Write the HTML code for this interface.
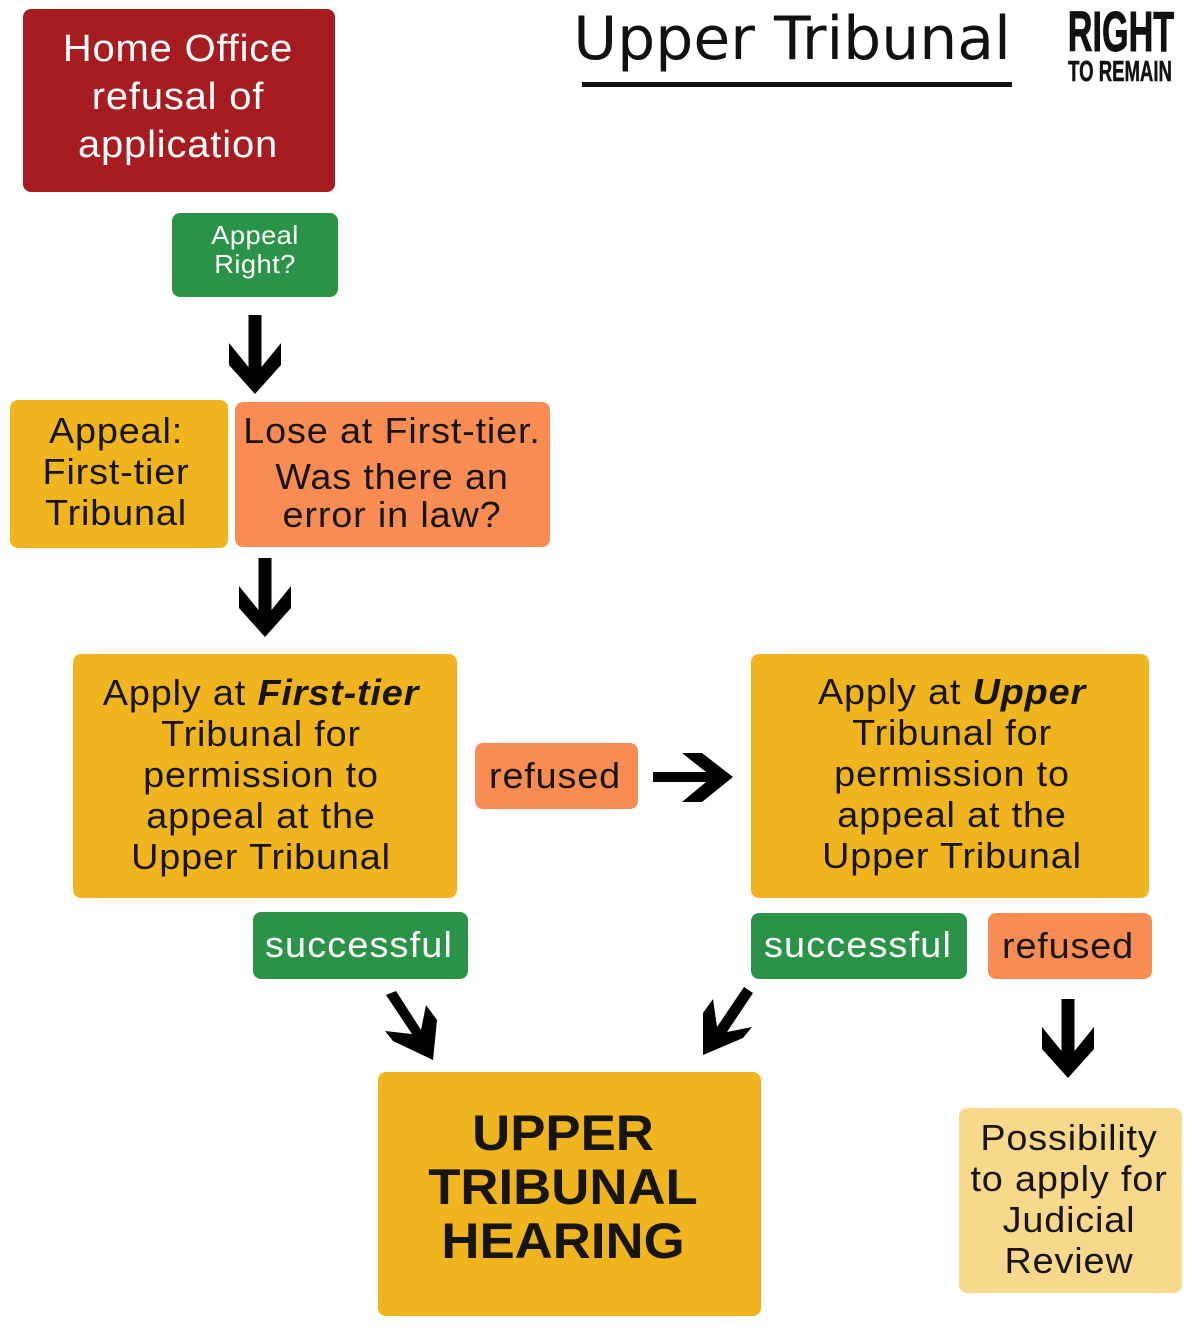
<!DOCTYPE html>
<html><head><meta charset="utf-8">
<style>
html,body{margin:0;padding:0;background:#fff}
#p{position:relative;width:1200px;height:1338px;overflow:hidden;font-family:"Liberation Sans",sans-serif;background:#fff}
.b{position:absolute;border-radius:8px}
.t{position:absolute;text-align:center;white-space:nowrap;transform:translateX(-50%) scaleX(1.05);color:#17150f;line-height:1;letter-spacing:.8px}
svg{position:absolute;left:0;top:0}
</style></head><body><div id="p">
<div class="b" style="left:23px;top:9px;width:312px;height:183px;background:#a71c20"></div>
<div class="b" style="left:172px;top:213px;width:166px;height:84px;background:#2b9347"></div>
<div class="b" style="left:10px;top:400px;width:218px;height:148px;background:#f0b41e"></div>
<div class="b" style="left:235px;top:402px;width:315px;height:145px;background:#f88c52"></div>
<div class="b" style="left:73px;top:654px;width:384px;height:244px;background:#f0b41e"></div>
<div class="b" style="left:751px;top:654px;width:398px;height:244px;background:#f0b41e"></div>
<div class="b" style="left:475px;top:743px;width:163px;height:66px;background:#f88c52"></div>
<div class="b" style="left:253px;top:912px;width:215px;height:67px;background:#2b9347"></div>
<div class="b" style="left:751px;top:913px;width:216px;height:66px;background:#2b9347"></div>
<div class="b" style="left:988px;top:913px;width:164px;height:66px;background:#f88c52"></div>
<div class="b" style="left:378px;top:1072px;width:383px;height:244px;background:#f0b41e"></div>
<div class="b" style="left:959px;top:1108px;width:223px;height:185px;background:#f8d98c"></div>

<div class="t" style="left:178px;top:30px;font-size:38px;color:#fff">Home Office</div>
<div class="t" style="left:178px;top:78px;font-size:38px;color:#fff">refusal of</div>
<div class="t" style="left:178px;top:126px;font-size:38px;color:#fff">application</div>
<div class="t" style="left:255px;top:222px;font-size:26px;color:#fff;letter-spacing:.4px">Appeal</div>
<div class="t" style="left:255px;top:251px;font-size:26px;color:#fff;letter-spacing:.4px">Right?</div>

<div class="t" style="left:116px;top:413px;font-size:36px">Appeal:</div>
<div class="t" style="left:116px;top:454px;font-size:36px">First-tier</div>
<div class="t" style="left:116px;top:495px;font-size:36px">Tribunal</div>
<div class="t" style="left:392px;top:413px;font-size:36px">Lose at First-tier.</div>
<div class="t" style="left:392px;top:459px;font-size:36px">Was there an</div>
<div class="t" style="left:392px;top:497px;font-size:36px">error in law?</div>

<div class="t" style="left:261px;top:675px;font-size:36px">Apply at <b><i>First-tier</i></b></div>
<div class="t" style="left:261px;top:716px;font-size:36px">Tribunal for</div>
<div class="t" style="left:261px;top:757px;font-size:36px">permission to</div>
<div class="t" style="left:261px;top:798px;font-size:36px">appeal at the</div>
<div class="t" style="left:261px;top:839px;font-size:36px">Upper Tribunal</div>

<div class="t" style="left:952px;top:674px;font-size:36px">Apply at <b><i>Upper</i></b></div>
<div class="t" style="left:952px;top:715px;font-size:36px">Tribunal for</div>
<div class="t" style="left:952px;top:756px;font-size:36px">permission to</div>
<div class="t" style="left:952px;top:797px;font-size:36px">appeal at the</div>
<div class="t" style="left:952px;top:838px;font-size:36px">Upper Tribunal</div>

<div class="t" style="left:555px;top:758px;font-size:36px">refused</div>
<div class="t" style="left:359px;top:927px;font-size:36px;color:#fff;letter-spacing:1.1px">successful</div>
<div class="t" style="left:858px;top:927px;font-size:36px;color:#fff;letter-spacing:1.1px">successful</div>
<div class="t" style="left:1068px;top:928px;font-size:36px">refused</div>

<div class="t" style="left:563px;top:1108px;font-size:50px;font-weight:bold;letter-spacing:0;transform:translateX(-50%) scaleX(1.055)">UPPER</div>
<div class="t" style="left:563px;top:1162px;font-size:50px;font-weight:bold;letter-spacing:0;transform:translateX(-50%) scaleX(1.055)">TRIBUNAL</div>
<div class="t" style="left:563px;top:1216px;font-size:50px;font-weight:bold;letter-spacing:0;transform:translateX(-50%) scaleX(1.055)">HEARING</div>

<div class="t" style="left:1069px;top:1120px;font-size:36px">Possibility</div>
<div class="t" style="left:1069px;top:1161px;font-size:36px">to apply for</div>
<div class="t" style="left:1069px;top:1202px;font-size:36px">Judicial</div>
<div class="t" style="left:1069px;top:1243px;font-size:36px">Review</div>

<div class="t" style="left:792px;top:9px;font-size:60px;color:#111;letter-spacing:0;transform:translateX(-50%);font-family:'DejaVu Sans',sans-serif">Upper Tribunal</div>
<div style="position:absolute;left:582px;top:82px;width:430px;height:5px;background:#111"></div>
<div class="t" style="left:1121px;top:4px;font-size:57px;font-weight:bold;color:#111;letter-spacing:0;-webkit-text-stroke:1px #111;transform:translateX(-50%) scaleX(.6)">RIGHT</div>
<div class="t" style="left:1120px;top:58px;font-size:29px;font-weight:bold;color:#111;letter-spacing:0;-webkit-text-stroke:.5px #111;transform:translateX(-50%) scaleX(.64)">TO REMAIN</div>

<svg width="1200" height="1338" viewBox="0 0 1200 1338" fill="#000">
<polygon transform="translate(255,315)" points="-6.5,0 6.5,0 6.5,52 26,28 26,50 0,79 -26,50 -26,28 -6.5,52"/>
<polygon transform="translate(265,558)" points="-6.5,0 6.5,0 6.5,52 26,28 26,50 0,79 -26,50 -26,28 -6.5,52"/>
<polygon transform="translate(1068,999)" points="-6.5,0 6.5,0 6.5,52 26,28 26,50 0,79 -26,50 -26,28 -6.5,52"/>
<polygon points="682,753 702,753 733,777 702,802 682,802 706,782 653,782 653,772 706,772"/>
<polygon points="386,995 396,991 421,1030 426,1005 437,1020 433,1060 393,1041 385,1031 412,1034"/>
<polygon points="744,987 753,993 727,1032 752,1027 743,1038 703,1055 703,1013 713,999 717,1027"/>
</svg>
</div></body></html>
